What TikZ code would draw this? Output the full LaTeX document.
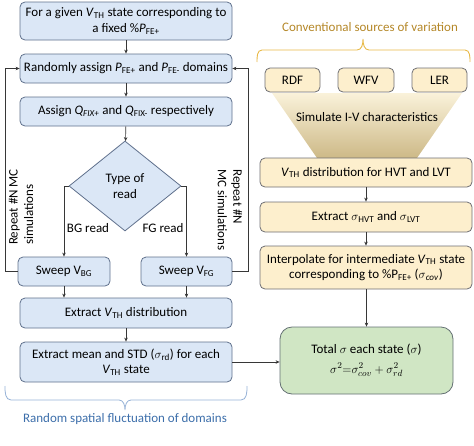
\documentclass[tikz,border=0pt]{standalone}
\usepackage{fontspec}
\setmainfont{Carlito}
\usetikzlibrary{shapes.geometric,arrows.meta}
\definecolor{bluefill}{RGB}{219,231,246}
\definecolor{blueline}{RGB}{95,112,140}
\definecolor{creamfill}{RGB}{253,239,205}
\definecolor{creamline}{RGB}{110,110,115}
\definecolor{greenfill}{RGB}{208,230,196}
\definecolor{greenline}{RGB}{100,112,115}
\definecolor{conn}{RGB}{55,55,55}
\definecolor{bracegold}{RGB}{232,185,70}
\definecolor{goldtext}{RGB}{180,135,40}
\definecolor{braceblue}{RGB}{150,178,215}
\definecolor{bluetext}{RGB}{60,110,170}
\definecolor{funtop}{RGB}{250,242,218}
\definecolor{funbot}{RGB}{205,185,135}
\tikzset{
  bluebox/.style={draw=blueline, fill=bluefill, line width=0.8pt, rounded corners=5pt, align=center, inner sep=1pt},
  creambox/.style={draw=creamline, fill=creamfill, line width=0.8pt, rounded corners=5pt, align=center, inner sep=1pt},
  greenbox/.style={draw=greenline, fill=greenfill, line width=0.8pt, rounded corners=12pt, align=center, inner sep=1pt},
  arr/.style={draw=conn, line width=0.6pt, -{Stealth[length=4pt,width=3.5pt]}},
  lin/.style={draw=conn, line width=0.6pt},
  lbl/.style={font=\fontsize{13}{15.5}\selectfont, inner sep=0pt, align=left}
}
\begin{document}
\begin{tikzpicture}[x=1pt,y=-1pt,font=\fontsize{13}{15.5}\selectfont]
\useasboundingbox (0,0) rectangle (474,445);
% left column
\node[bluebox, minimum width=212pt, minimum height=38pt] (b1) at (126,21)
  {For a given \textit{V}\textsubscript{TH} state corresponding to\\a fixed \%\textit{P}\textsubscript{FE+}};
\node[bluebox, minimum width=212pt, minimum height=29pt] (b2) at (126,68.5)
  {Randomly assign \textit{P}\textsubscript{FE+} and \textit{P}\textsubscript{FE-} domains};
\node[bluebox, minimum width=212pt, minimum height=29pt] (b3) at (126,111.5)
  {Assign \textit{Q}\textsubscript{\textit{FIX+}} and \textit{Q}\textsubscript{FIX-} respectively};
\node[diamond, draw=blueline, fill=bluefill, line width=0.8pt, minimum width=112pt, minimum height=90pt, inner sep=0pt, align=center] (d) at (125,186)
  {Type of\\read};
\node[bluebox, minimum width=92pt, minimum height=29pt] (vbg) at (64,271.5) {Sweep V\textsubscript{BG}};
\node[bluebox, minimum width=91pt, minimum height=29pt] (vfg) at (186.5,271.5) {Sweep V\textsubscript{FG}};
\node[bluebox, minimum width=212pt, minimum height=30pt] (evth) at (126,313)
  {Extract \textit{V}\textsubscript{TH} distribution};
\node[bluebox, minimum width=212pt, minimum height=40pt] (emean) at (126,362)
  {Extract mean and STD ($\sigma$\textsubscript{rd}) for each\\\textit{V}\textsubscript{TH} state};
\node[lbl] (bgr) at (88,228) {BG read};
\node[lbl] (fgr) at (163,228) {FG read};
\node[lbl, rotate=90] (repl) at (21,207) {Repeat \#N MC\\simulations};
\node[lbl, rotate=-90] (repr) at (230,210) {Repeat \#N\\MC simulations};
% connectors left
\draw[arr] (b1) -- (b2);
\draw[arr] (b2) -- (b3);
\draw[arr] (b3) -- (d);
\draw[arr] (d.west) -| (vbg.north);
\draw[arr] (d.east) -| (vfg.north);
\draw[arr] (vbg.south) -- (vbg.south |- evth.north);
\draw[arr] (vfg.south) -- (vfg.south |- evth.north);
\draw[arr] (evth) -- (emean);
\coordinate (lc) at (5,271.5);
\coordinate (rc) at (248,271.5);
\draw[arr] (vbg.west) -- (lc) |- (b2.west);
\draw[arr] (vfg.east) -- (rc) |- (b2.east);
% blue brace
\draw[braceblue, line width=0.8pt] (5,386) to[out=-90,in=180] (11,400) -- (119,400) to[out=0,in=90] (125,410) to[out=90,in=180] (131,400) -- (241,400) to[out=0,in=-90] (247,386);
\node[text=bluetext] (rsf) at (125,419) {Random spatial fluctuation of domains};
% right column
\node[text=goldtext] (conv) at (370,27) {Conventional sources of variation};
\draw[bracegold, line width=0.9pt] (257,62) to[out=90,in=180] (262,50) -- (357,50) to[out=0,in=-90] (363,39) to[out=-90,in=180] (369,50) -- (465,50) to[out=0,in=90] (470,62);
\shade[top color=funtop, bottom color=funbot] (272,93) -- (462,93) -- (417,158) -- (317,158) -- cycle;
\node[creambox, minimum width=55pt, minimum height=24pt] (rdf) at (292.5,80) {RDF};
\node[creambox, minimum width=56pt, minimum height=24pt] (wfv) at (366,80) {WFV};
\node[creambox, minimum width=55pt, minimum height=24pt] (ler) at (439.5,80) {LER};
\node (siv) at (367,117) {Simulate I-V characteristics};
\node[creambox, minimum width=212pt, minimum height=29pt] (vdist) at (366,172.5)
  {\textit{V}\textsubscript{TH} distribution for HVT and LVT};
\node[creambox, minimum width=212pt, minimum height=30pt] (esig) at (366,217)
  {Extract $\sigma$\textsubscript{HVT} and $\sigma$\textsubscript{LVT}};
\node[creambox, minimum width=212pt, minimum height=43pt] (interp) at (366,267.5)
  {Interpolate for intermediate \textit{V}\textsubscript{TH} state\\corresponding to \%P\textsubscript{FE+} ($\sigma$\textsubscript{\textit{cov}})};
\node[greenbox, minimum width=173pt, minimum height=67pt] (tot) at (366.5,360.5)
  {Total $\sigma$ each state ($\sigma$)\\[4pt]$\sigma^2{=}\sigma^2_{cov}+\sigma^2_{rd}$};
\draw[arr] (vdist) -- (esig);
\draw[arr] (esig) -- (interp);
\draw[arr] (interp.south -| tot.north) -- (tot.north);
\draw[arr] (emean.east) -- (emean.east -| tot.west);
\end{tikzpicture}
\end{document}
